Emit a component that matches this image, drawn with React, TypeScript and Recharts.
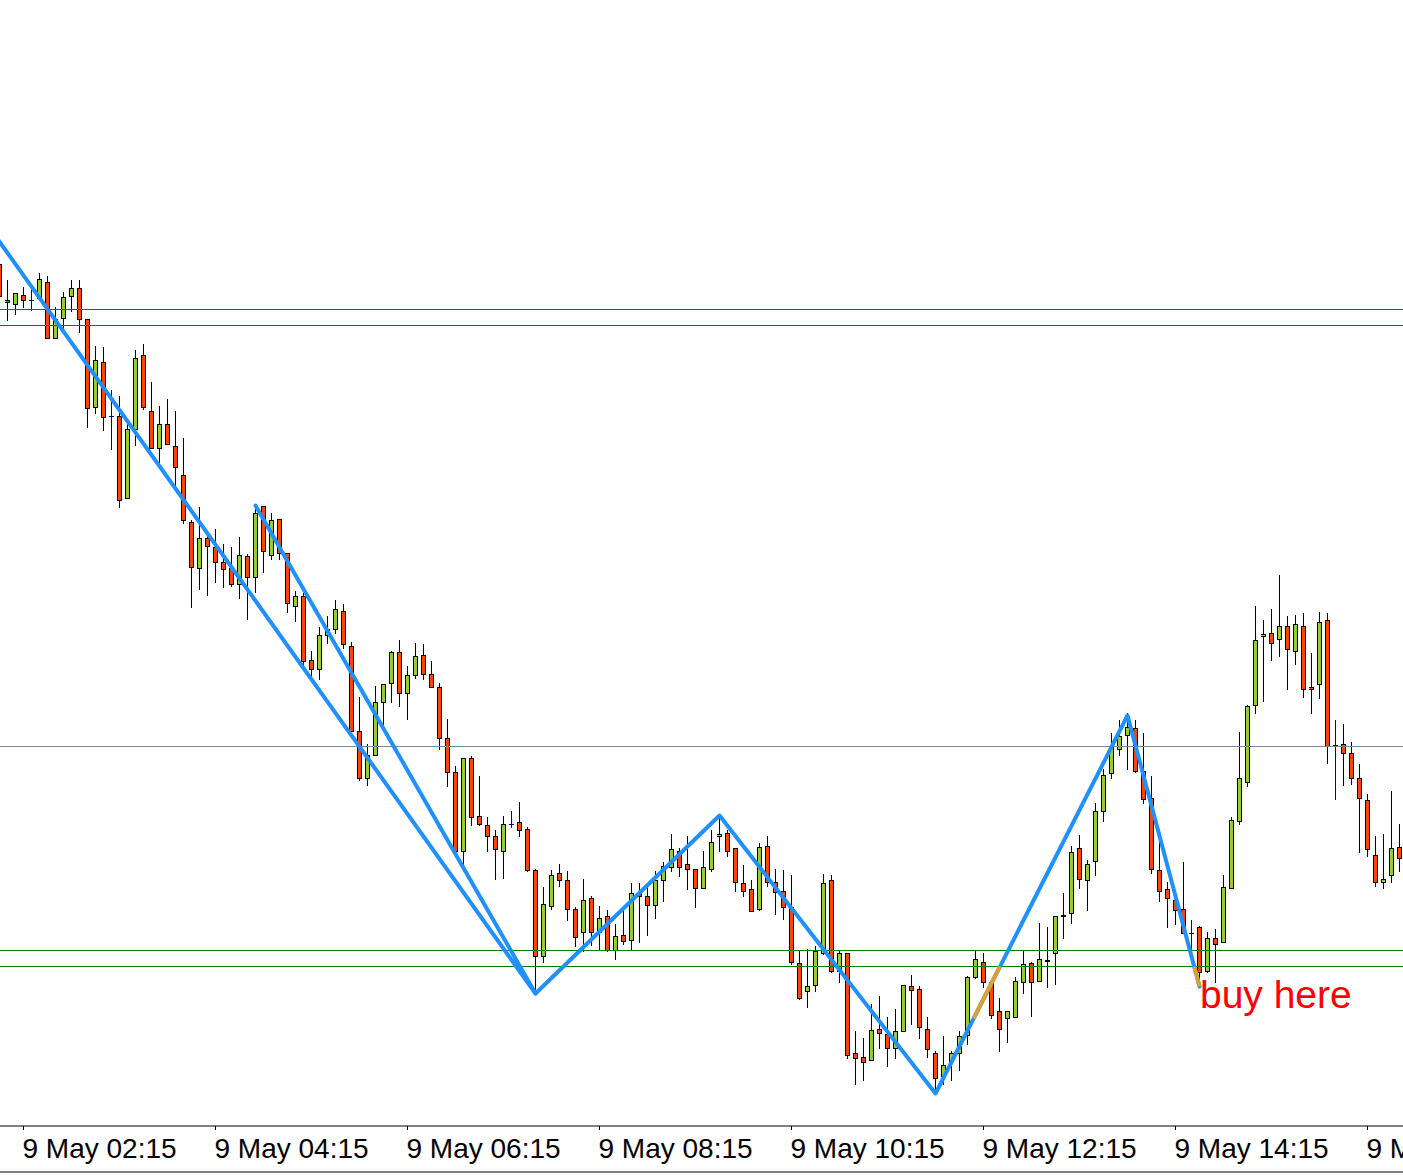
import React from 'react';
import { ComposedChart, Bar, Line, Scatter, XAxis, YAxis, ReferenceLine } from 'recharts';

// 5-minute candles, index 0 = 9 May 02:00. Prices in chart points.
const OPEN = [
  861, 825, 821, 830, 825, 827, 843, 787, 807, 829, 837, 806, 718, 763, 709, 709, 627, 696, 770, 714,
  677, 701, 679, 650, 603, 557, 587, 578, 563, 557, 541, 569, 548, 619, 570, 606, 572, 519, 529, 465,
  456, 490, 496, 514, 479, 394, 347, 370, 423, 442, 473, 432, 450, 470, 451, 438, 387, 353, 274, 367,
  309, 300, 289, 274, 301, 303, 296, 255, 169, 219, 252, 245, 216, 193, 227, 193, 209, 175, 190, 185,
  232, 229, 220, 245, 258, 274, 261, 256, 237, 256, 289, 292, 277, 242, 236, 216, 279, 243, 234, 218,
  162, 134, 140, 172, 245, 154, 172, 72, 68, 65, 96, 91, 77, 94, 139, 136, 96, 72, 49, 64,
  72, 90, 148, 163, 143, 114, 107, 108, 143, 162, 144, 164, 172, 209, 212, 277, 245, 264, 314, 352,
  376, 390, 397, 354, 327, 255, 236, 225, 216, 192, 198, 154, 187, 183, 237, 304, 343, 420, 489, 492,
  486, 499, 474, 499, 438, 441, 505, 380, 381, 372, 347, 325, 270, 243, 250, 278,
];
const HIGH = [
  865, 845, 832, 838, 838, 852, 849, 818, 833, 845, 845, 806, 779, 778, 735, 729, 705, 775, 781, 743,
  719, 726, 714, 687, 605, 618, 594, 596, 581, 578, 588, 571, 621, 619, 612, 606, 572, 534, 532, 474,
  498, 509, 525, 521, 483, 428, 381, 439, 441, 474, 485, 459, 482, 481, 464, 442, 406, 359, 367, 369,
  349, 308, 295, 309, 314, 323, 298, 256, 238, 255, 261, 254, 218, 246, 229, 219, 215, 201, 216, 242,
  242, 238, 254, 263, 291, 277, 289, 256, 274, 295, 310, 295, 277, 260, 245, 282, 289, 256, 255, 250,
  174, 176, 179, 251, 250, 174, 172, 94, 87, 121, 129, 108, 116, 140, 150, 139, 108, 74, 89, 74,
  94, 149, 174, 172, 143, 127, 114, 148, 174, 163, 202, 198, 209, 232, 279, 290, 265, 322, 356, 392,
  405, 412, 405, 392, 349, 295, 243, 234, 263, 205, 199, 193, 196, 250, 308, 393, 420, 519, 505, 516,
  550, 509, 510, 512, 472, 513, 512, 405, 401, 383, 361, 331, 289, 291, 334, 301,
];
const LOW = [
  825, 805, 811, 818, 815, 827, 787, 787, 793, 814, 793, 698, 712, 695, 676, 618, 627, 680, 716, 677,
  658, 681, 638, 602, 518, 536, 530, 543, 538, 539, 527, 506, 533, 553, 566, 566, 513, 504, 458, 446,
  446, 482, 492, 477, 394, 345, 340, 370, 394, 423, 419, 406, 447, 446, 438, 376, 339, 274, 260, 300,
  300, 274, 246, 247, 298, 289, 254, 131, 163, 216, 239, 205, 179, 174, 180, 175, 174, 166, 181, 175,
  183, 190, 207, 224, 254, 249, 236, 218, 237, 254, 274, 269, 234, 229, 214, 215, 239, 211, 206, 161,
  126, 118, 134, 171, 153, 143, 67, 41, 45, 65, 77, 59, 67, 94, 101, 87, 68, 32, 41, 45,
  55, 81, 147, 138, 107, 74, 83, 108, 132, 109, 144, 138, 141, 187, 202, 237, 215, 250, 304, 347,
  370, 356, 353, 322, 252, 224, 198, 201, 192, 166, 139, 153, 143, 183, 237, 301, 339, 412, 424, 465,
  469, 436, 461, 428, 412, 427, 362, 326, 340, 341, 273, 269, 239, 237, 243, 254,
];
const CLOSE = [
  829, 823, 832, 825, 825, 846, 787, 806, 828, 837, 806, 717, 765, 708, 709, 625, 696, 767, 718, 677,
  701, 681, 658, 605, 558, 587, 579, 563, 556, 541, 570, 548, 612, 574, 605, 572, 522, 529, 464, 456,
  490, 496, 516, 481, 394, 347, 370, 423, 441, 473, 432, 450, 469, 451, 438, 387, 353, 274, 367, 308,
  301, 289, 276, 301, 301, 295, 255, 169, 221, 250, 245, 216, 188, 225, 193, 207, 175, 189, 184, 232,
  229, 220, 245, 259, 276, 258, 256, 237, 258, 283, 291, 274, 243, 234, 214, 278, 243, 233, 218, 163,
  127, 139, 174, 242, 154, 172, 70, 67, 63, 95, 92, 77, 94, 140, 135, 98, 76, 47, 60, 72,
  89, 148, 166, 143, 110, 96, 114, 144, 161, 143, 166, 165, 209, 210, 273, 246, 261, 314, 350, 378,
  389, 398, 354, 326, 256, 234, 227, 215, 192, 192, 153, 187, 181, 238, 305, 347, 419, 485, 491, 482,
  499, 476, 501, 436, 436, 503, 379, 380, 372, 347, 327, 276, 243, 246, 277, 267,
];

const TICK_INDEX = [3, 27, 51, 75, 99, 123, 147, 171];
const TICK_LABELS = [
  '9 May 02:15', '9 May 04:15', '9 May 06:15', '9 May 08:15',
  '9 May 10:15', '9 May 12:15', '9 May 14:15', '9 May 16:15',
];

const RED_LEVELS = [816, 800];
const GRAY_LEVELS = [379];
const GREEN_LEVELS = [175, 159];

const ZIGZAG_MAIN_IDX = [-8, 67, 90, 117, 141, 150];
const ZIGZAG_MAIN_VAL = [973.5, 132, 310, 32, 410, 139];
const ZIGZAG_SECOND_IDX = [32, 67];
const ZIGZAG_SECOND_VAL = [620, 132];
const GOLD_1_IDX = [121.76, 125.06];
const GOLD_1_VAL = [107, 159];
const GOLD_2_IDX = [149.34, 150];
const GOLD_2_VAL = [159, 139];

const SIGNAL_IDX = [150.06];
const SIGNAL_VAL = [118];
const SIGNAL_TEXT = 'buy here';

const X_DOMAIN: [number, number] = [0.0625, 175.4375];
const Y_DOMAIN: [number, number] = [-0.5, 1125.5];

const candles = OPEN.map((o, i) => ({ i, o, h: HIGH[i], l: LOW[i], c: CLOSE[i] }));
const toPoints = (idx: number[], val: number[]) => idx.map((i, n) => ({ i, v: val[n] }));
const zzMain = toPoints(ZIGZAG_MAIN_IDX, ZIGZAG_MAIN_VAL);
const zzSecond = toPoints(ZIGZAG_SECOND_IDX, ZIGZAG_SECOND_VAL);
const gold1 = toPoints(GOLD_1_IDX, GOLD_1_VAL);
const gold2 = toPoints(GOLD_2_IDX, GOLD_2_VAL);
const signal = toPoints(SIGNAL_IDX, SIGNAL_VAL);

const BULL = '#9ACD32';
const BEAR = '#FF4500';
const DOJI = '#000080';
const ZZ = '#1E90FF';
const GOLD = '#D9A032';

const Candle = (props: any) => {
  const { x, y, width, height, payload } = props;
  if (!payload || x == null || y == null) return null;
  const cx = x + width / 2;
  const top = Math.min(y, y + height);
  const bot = Math.max(y, y + height);
  const { o, h, l, c } = payload;
  const k = (bot - top) / (h - l);
  const py = (v: number) => top + (h - v) * k;
  if (o === c) {
    return (
      <g>
        <line x1={cx} x2={cx} y1={py(h) - 0.5} y2={py(l) + 0.5} stroke={DOJI} strokeWidth={1} />
        <line x1={cx - 2.5} x2={cx + 2.5} y1={py(o)} y2={py(o)} stroke={DOJI} strokeWidth={1} />
      </g>
    );
  }
  const bTop = py(Math.max(o, c));
  const bBot = py(Math.min(o, c));
  return (
    <g>
      <line x1={cx} x2={cx} y1={py(h) - 0.5} y2={py(l) + 0.5} stroke="#000" strokeWidth={1} />
      <rect x={cx - 2} y={bTop} width={4} height={bBot - bTop} fill={c > o ? BULL : BEAR} stroke="#000" strokeWidth={1} />
    </g>
  );
};

const TimeTick = (props: any) => {
  const { x, y, payload } = props;
  const n = TICK_INDEX.indexOf(payload.value);
  return (
    <text x={x - 1} y={y} dy={28} textAnchor="start" fill="#000" fontSize={28} fontFamily="'Liberation Sans', Arial, sans-serif">
      {n >= 0 ? TICK_LABELS[n] : ''}
    </text>
  );
};

const SignalText = (props: any) => {
  const { cx, cy } = props;
  if (cx == null) return null;
  return (
    <text x={cx} y={cy} fill="#FF0000" fontSize={39} fontFamily="'Liberation Sans', Arial, sans-serif">
      {SIGNAL_TEXT}
    </text>
  );
};

export default function App() {
  return (
    <div style={{ position: 'absolute', left: 0, top: 0, width: 1403, height: 1175, background: '#fff' }}>
      <style>{'body{margin:0;overflow:hidden;background:#fff}'}</style>
      <ComposedChart width={1403} height={1175} data={candles} margin={{ top: 0, right: 0, bottom: 0, left: 0 }}>
        <XAxis
          xAxisId="a"
          dataKey="i"
          type="number"
          domain={X_DOMAIN}
          allowDataOverflow
          ticks={TICK_INDEX}
          interval={0}
          height={46}
          tickSize={4}
          tickMargin={0}
          axisLine={{ stroke: '#000', strokeWidth: 1 }}
          tickLine={{ stroke: '#000', strokeWidth: 1 }}
          tick={<TimeTick />}
        />
        <XAxis
          xAxisId="b"
          dataKey="i"
          type="number"
          domain={X_DOMAIN}
          allowDataOverflow
          height={3}
          tick={false}
          tickLine={false}
          axisLine={{ stroke: '#000', strokeWidth: 1 }}
        />
        <YAxis yAxisId="p" type="number" domain={Y_DOMAIN} allowDataOverflow hide />
        {RED_LEVELS.map((v) => (
          <ReferenceLine key={'r' + v} xAxisId="a" yAxisId="p" y={v} stroke="#FF0000" strokeWidth={1} />
        ))}
        {GRAY_LEVELS.map((v) => (
          <ReferenceLine key={'g' + v} xAxisId="a" yAxisId="p" y={v} stroke="#778899" strokeWidth={1} />
        ))}
        {GREEN_LEVELS.map((v) => (
          <ReferenceLine key={'n' + v} xAxisId="a" yAxisId="p" y={v} stroke="#008000" strokeWidth={1} />
        ))}
        <Line xAxisId="a" yAxisId="p" data={zzMain} dataKey="v" stroke={ZZ} strokeWidth={4} dot={false} activeDot={false} strokeLinejoin="round" strokeLinecap="round" isAnimationActive={false} />
        <Line xAxisId="a" yAxisId="p" data={zzSecond} dataKey="v" stroke={ZZ} strokeWidth={4} dot={false} activeDot={false} strokeLinejoin="round" strokeLinecap="round" isAnimationActive={false} />
        <Line xAxisId="a" yAxisId="p" data={gold1} dataKey="v" stroke={GOLD} strokeWidth={4} dot={false} activeDot={false} isAnimationActive={false} />
        <Line xAxisId="a" yAxisId="p" data={gold2} dataKey="v" stroke={GOLD} strokeWidth={4} dot={false} activeDot={false} isAnimationActive={false} />
        <Bar xAxisId="a" yAxisId="p" dataKey={(d: any) => [d.l, d.h]} barSize={8} shape={<Candle />} isAnimationActive={false} />
        <Scatter xAxisId="a" yAxisId="p" data={signal} dataKey="v" shape={<SignalText />} isAnimationActive={false} />
      </ComposedChart>
    </div>
  );
}
